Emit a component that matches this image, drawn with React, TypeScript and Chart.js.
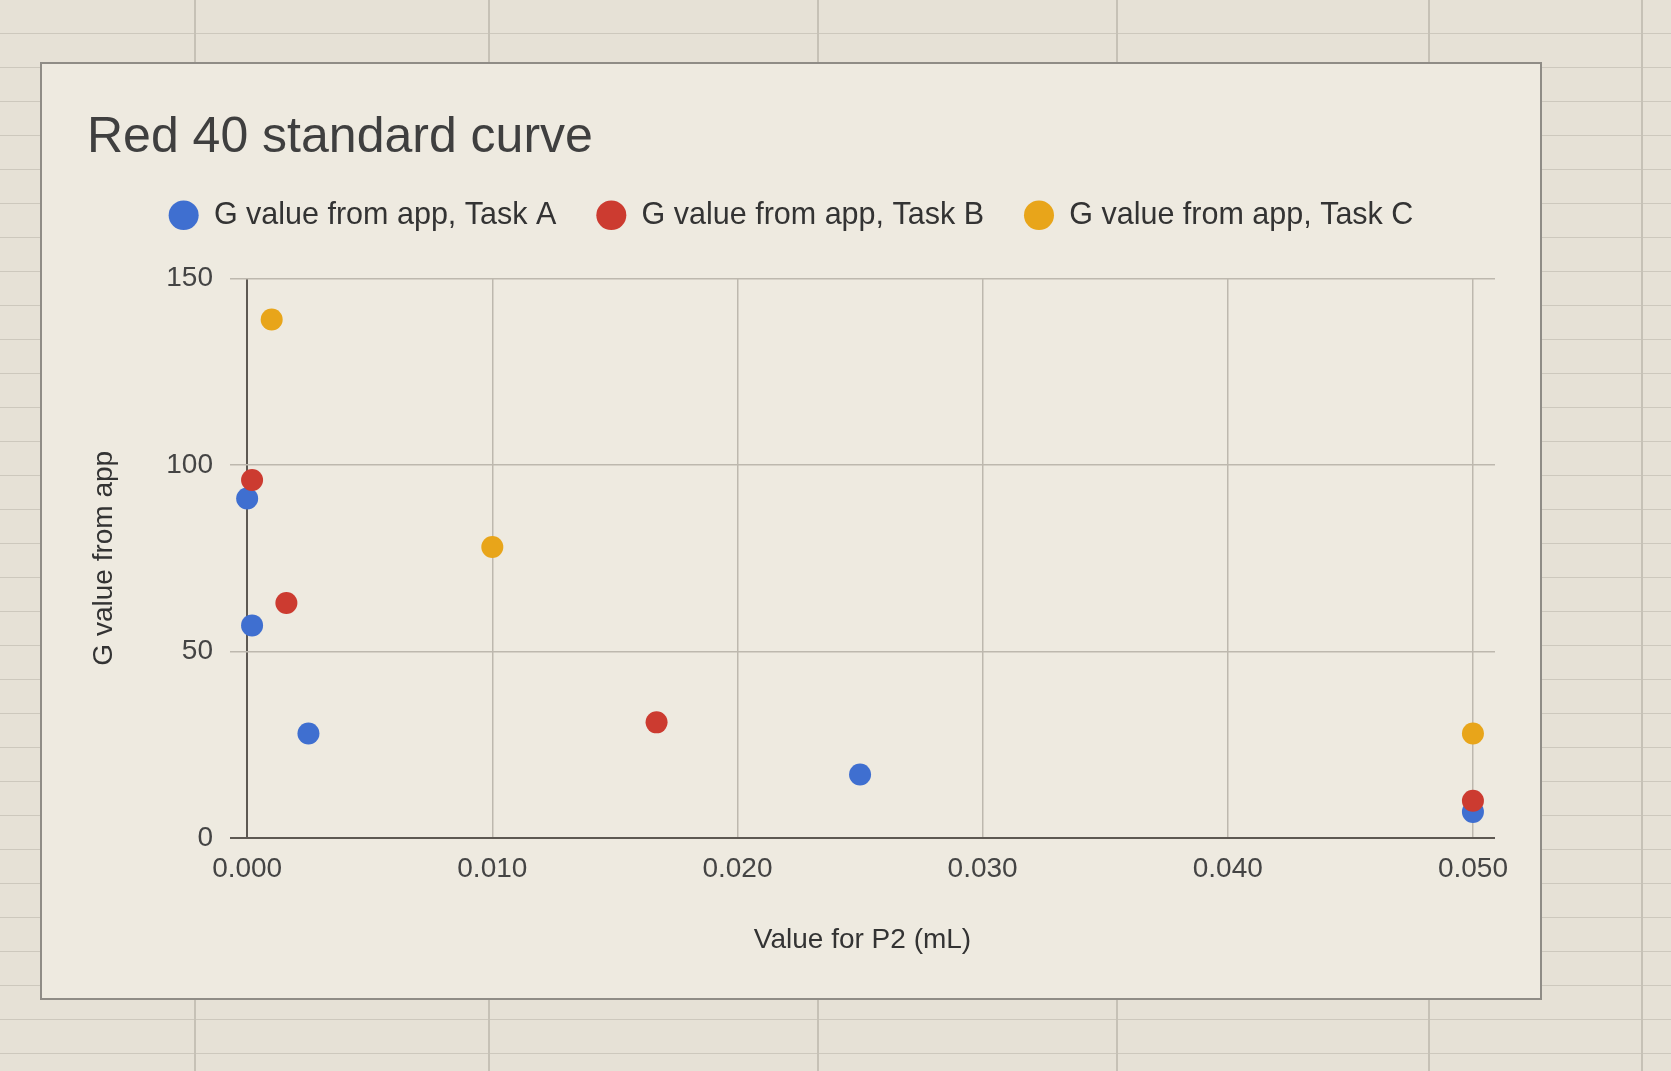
import React, { useEffect, useRef } from "react";
import { Chart, registerables } from "chart.js";

Chart.register(...registerables);

const TITLE = "Red 40 standard curve";
const X_TITLE = "Value for P2 (mL)";
const Y_TITLE = "G value from app";
const SERIES_NAMES = [
  "G value from app, Task A",
  "G value from app, Task B",
  "G value from app, Task C",
];
const taskAX = [0, 0.0002, 0.0025, 0.025, 0.05];
const taskAY = [91, 57, 28, 17, 7];
const taskBX = [0.0002, 0.0016, 0.0167, 0.05];
const taskBY = [96, 63, 31, 10];
const taskCX = [0.001, 0.01, 0.05];
const taskCY = [139, 78, 28];
const X_TICKS = [0, 0.01, 0.02, 0.03, 0.04, 0.05];
const Y_TICKS = [0, 50, 100, 150];
const COLORS = ["#3f6fd0", "#cc3b30", "#e8a51a"];

const FONT = "'Liberation Sans', Arial, sans-serif";
const CANVAS_W = 1498;
const CANVAS_H = 934;

function zip(xs: number[], ys: number[]) {
  return xs.map((x, i) => ({ x, y: ys[i] }));
}

export default function App() {
  const ref = useRef<HTMLCanvasElement | null>(null);

  useEffect(() => {
    if (!ref.current) return;
    const gridColor = (ctx: any) =>
      ctx.tick && ctx.tick.value === 0 ? "#5d5852" : "#bdb8ae";
    const gridWidth = (ctx: any) => (ctx.tick && ctx.tick.value === 0 ? 2 : 1.5);
    const series = [zip(taskAX, taskAY), zip(taskBX, taskBY), zip(taskCX, taskCY)];
    const orders = [2, 1, 3];
    const chart = new Chart(ref.current, {
      type: "scatter",
      data: {
        datasets: series.map((d, i) => ({
          label: SERIES_NAMES[i],
          data: d,
          backgroundColor: COLORS[i],
          borderColor: COLORS[i],
          pointBackgroundColor: COLORS[i],
          pointBorderWidth: 0,
          pointRadius: 11,
          pointHoverRadius: 11,
          showLine: false,
          order: orders[i],
        })),
      },
      options: {
        animation: false,
        responsive: false,
        maintainAspectRatio: false,
        layout: { padding: { left: 45, right: 45, top: 0, bottom: 0 } },
        plugins: {
          title: {
            display: true,
            text: TITLE,
            align: "start",
            color: "#3f3f3f",
            font: { family: FONT, size: 50, weight: "normal", lineHeight: 1.2 },
            padding: { top: 44, bottom: -8 },
          },
          legend: {
            display: true,
            position: "top",
            align: "center",
            weight: 1600,
            labels: {
              usePointStyle: true,
              pointStyle: "circle",
              pointStyleWidth: 30,
              boxHeight: 21,
              padding: 40,
              color: "#333333",
              font: { family: FONT, size: 30.5 },
              sort: (a: any, b: any) => a.datasetIndex - b.datasetIndex,
            },
          },
          subtitle: {
            display: true,
            text: " ",
            weight: 500,
            font: { size: 1, lineHeight: 1 },
            padding: { top: 37, bottom: 0 },
          },
          tooltip: { enabled: false },
        },
        scales: {
          x: {
            type: "linear",
            min: -0.0007,
            max: 0.0509,
            afterBuildTicks: (s: any) => {
              s.ticks = X_TICKS.map((v) => ({ value: v }));
            },
            afterFit: (s: any) => {
              s.height = 160;
            },
            ticks: {
              padding: 14,
              color: "#444444",
              font: { family: FONT, size: 28 },
              maxRotation: 0,
              autoSkip: false,
              callback: (v: any) => Number(v).toFixed(3),
            },
            grid: { drawTicks: false, color: gridColor, lineWidth: gridWidth },
            border: { display: false },
            title: {
              display: true,
              text: X_TITLE,
              color: "#333333",
              font: { family: FONT, size: 28 },
              padding: { top: 30, bottom: 41 },
            },
          },
          y: {
            type: "linear",
            min: 0,
            max: 150,
            afterBuildTicks: (s: any) => {
              s.ticks = Y_TICKS.map((v) => ({ value: v }));
            },
            afterFit: (s: any) => {
              s.width = 143;
            },
            ticks: {
              padding: 17,
              color: "#444444",
              font: { family: FONT, size: 28 },
            },
            grid: { drawTicks: false, color: gridColor, lineWidth: gridWidth },
            border: { display: false },
            title: {
              display: true,
              text: Y_TITLE,
              color: "#333333",
              font: { family: FONT, size: 28 },
              padding: { top: 0, bottom: 20 },
            },
          },
        },
      } as any,
    });
    return () => chart.destroy();
  }, []);

  const colLines = [194, 488, 817, 1116, 1428, 1641];
  const bgImages = [
    ...colLines.map(
      (x) =>
        `linear-gradient(to right, transparent ${x}px, #c6c1b6 ${x}px, #c6c1b6 ${x + 2}px, transparent ${x + 2}px)`
    ),
    "repeating-linear-gradient(to bottom, transparent 0px, transparent 33px, #cdc8bd 33px, #cdc8bd 34px)",
  ];

  return (
    <div
      style={{
        position: "fixed",
        left: 0,
        top: 0,
        width: 1671,
        height: 1071,
        backgroundColor: "#e6e1d6",
        backgroundImage: bgImages.join(", "),
        overflow: "hidden",
      }}
    >
      <div
        style={{
          position: "absolute",
          left: 40,
          top: 62,
          width: CANVAS_W,
          height: CANVAS_H,
          border: "2px solid #8f8c86",
          background: "#eeeae0",
        }}
      >
        <canvas
          ref={ref}
          width={CANVAS_W}
          height={CANVAS_H}
          style={{ display: "block", width: CANVAS_W, height: CANVAS_H }}
        />
      </div>
    </div>
  );
}
